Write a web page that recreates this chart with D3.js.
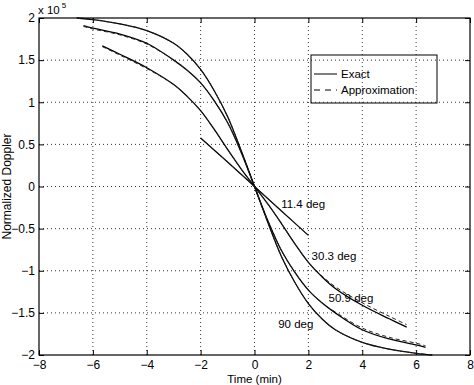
<!DOCTYPE html>
<html><head><meta charset="utf-8">
<script src="https://cdn.jsdelivr.net/npm/d3@7"></script>
<style>body{margin:0;background:#fff}svg{display:block}text{font-family:"Liberation Sans",Arial,sans-serif;fill:#000}</style>
</head><body><svg id="c" width="474" height="385"></svg>
<script>
// ---- data ----
const xTicks = [-8,-6,-4,-2,0,2,4,6,8];
const yTicks = [-2,-1.5,-1,-0.5,0,0.5,1,1.5,2];
const yTickLabels = ["\u22122","\u22121.5","\u22121","\u22120.5","0","0.5","1","1.5","2"];
const xTickLabels = ["\u22128","\u22126","\u22124","\u22122","0","2","4","6","8"];

const t90    = [-6.6,-6,-5,-4,-3,-2.5,-2,-1.5,-1,-0.5,0,0.5,1,1.5,2,2.5,3,4,5,6,6.6];
const exact90  = [2.0,1.98,1.93,1.85,1.70,1.57,1.39,1.14,0.83,0.43,0,-0.43,-0.83,-1.14,-1.39,-1.57,-1.70,-1.85,-1.93,-1.98,-2.0];
const approx90 = [2.0,1.98,1.93,1.85,1.70,1.57,1.39,1.14,0.83,0.43,0,-0.43,-0.83,-1.14,-1.39,-1.57,-1.70,-1.85,-1.93,-1.98,-2.0];

const t509   = [-6.35,-6,-5,-4,-3,-2.5,-2,-1.5,-1,-0.5,0,0.5,1,1.5,2,2.5,3,4,5,6,6.35];
const exact509  = [1.91,1.88,1.81,1.70,1.50,1.38,1.23,1.02,0.76,0.41,0,-0.41,-0.76,-1.02,-1.23,-1.38,-1.50,-1.70,-1.81,-1.88,-1.91];
const approx509 = [1.90,1.87,1.80,1.69,1.50,1.38,1.23,1.02,0.76,0.41,0,-0.41,-0.76,-1.02,-1.23,-1.38,-1.49,-1.68,-1.79,-1.86,-1.89];

const t303   = [-5.65,-5,-4,-3,-2.5,-2,-1.5,-1,-0.5,0,0.5,1,1.5,2,2.5,3,4,5,5.65];
const exact303  = [1.67,1.57,1.41,1.21,1.07,0.90,0.68,0.44,0.21,0,-0.21,-0.44,-0.68,-0.90,-1.07,-1.21,-1.41,-1.57,-1.67];
const approx303 = [1.66,1.56,1.40,1.21,1.07,0.90,0.68,0.44,0.21,0,-0.21,-0.44,-0.68,-0.90,-1.06,-1.19,-1.38,-1.54,-1.64];

const t114   = [-2,-1,0,1,2];
const exact114  = [0.575,0.29,0,-0.29,-0.58];
const approx114 = [0.575,0.29,0,-0.29,-0.58];

const curveLabels = ["11.4 deg","30.3 deg","50.9 deg","90 deg"];
const labelT = [0.99,2.12,2.75,0.88];
const labelV = [-0.25,-0.87,-1.37,-1.68];

const legendLabels = ["Exact","Approximation"];

// ---- drawing ----
const svg = d3.select("#c");
const L=39, R=470, T=18, B=355;
const x = d3.scaleLinear().domain([-8,8]).range([L,R]);
const y = d3.scaleLinear().domain([-2,2]).range([B,T]);

// grid
const g = svg.append("g");
g.selectAll(".gx").data(xTicks.slice(1,-1)).enter().append("line")
  .attr("x1",d=>x(d)).attr("x2",d=>x(d)).attr("y1",T).attr("y2",B)
  .attr("stroke","#000").attr("stroke-width",0.8).attr("stroke-dasharray","1,3");
g.selectAll(".gy").data(yTicks.slice(1,-1)).enter().append("line")
  .attr("y1",d=>y(d)).attr("y2",d=>y(d)).attr("x1",L).attr("x2",R)
  .attr("stroke","#000").attr("stroke-width",0.8).attr("stroke-dasharray","1,3");

// axes
const fmtX = (d,i)=>xTickLabels[i], fmtY=(d,i)=>yTickLabels[i];
const ax = d3.axisBottom(x).tickValues(xTicks).tickSize(-5).tickPadding(5).tickFormat(fmtX);
const ay = d3.axisLeft(y).tickValues(yTicks).tickSize(-5).tickPadding(4).tickFormat(fmtY);
const axT = d3.axisTop(x).tickValues(xTicks).tickSize(-5).tickFormat("");
const ayR = d3.axisRight(y).tickValues(yTicks).tickSize(-5).tickFormat("");
function style(sel){sel.select(".domain").remove();sel.selectAll("line").attr("stroke","#000");sel.selectAll("text").style("font-size","12px").attr("fill","#000");}
svg.append("g").attr("transform",`translate(0,${B})`).call(ax).call(style);
svg.append("g").attr("transform",`translate(${L},0)`).call(ay).call(style);
svg.append("g").attr("transform",`translate(0,${T})`).call(axT).call(style);
svg.append("g").attr("transform",`translate(${R},0)`).call(ayR).call(style);
svg.append("rect").attr("x",L).attr("y",T).attr("width",R-L).attr("height",B-T)
  .attr("fill","none").attr("stroke","#000").attr("stroke-width",1.2);

// curves
const line = d3.line().x(d=>x(d[0])).y(d=>y(d[1])).curve(d3.curveCatmullRom);
const series = [[t90,exact90,approx90],[t509,exact509,approx509],[t303,exact303,approx303],[t114,exact114,approx114]];
series.forEach(([t,e,a])=>{
  svg.append("path").datum(t.map((v,i)=>[v,e[i]])).attr("d",line)
    .attr("fill","none").attr("stroke","#000").attr("stroke-width",1.3);
  svg.append("path").datum(t.map((v,i)=>[v,a[i]])).attr("d",line)
    .attr("fill","none").attr("stroke","#222").attr("stroke-width",1).attr("stroke-dasharray","4,3");
});

// curve labels
svg.selectAll(".cl").data(curveLabels).enter().append("text")
  .attr("x",(d,i)=>x(labelT[i])).attr("y",(d,i)=>y(labelV[i]))
  .style("font-size","11.5px").text(d=>d);

// legend
const lg = svg.append("g");
lg.append("rect").attr("x",311).attr("y",55).attr("width",126).attr("height",48)
  .attr("fill","none").attr("stroke","#000").attr("stroke-width",1);
legendLabels.forEach((s,i)=>{
  const yy = 74 + i*16;
  lg.append("line").attr("x1",314).attr("x2",337).attr("y1",yy).attr("y2",yy)
    .attr("stroke","#000").attr("stroke-width",1).attr("stroke-dasharray",i? "6,5":null);
  lg.append("text").attr("x",341).attr("y",yy+4).style("font-size","11.5px").text(s);
});

// axis labels
svg.append("text").attr("x",x(0)).attr("y",383).attr("text-anchor","middle").style("font-size","11.5px").text("Time (min)");
svg.append("text").attr("transform",`translate(11,${(T+B)/2}) rotate(-90)`).attr("text-anchor","middle").style("font-size","12px").text("Normalized Doppler");
const ex = svg.append("text").attr("x",38).attr("y",14).style("font-size","11.5px");
ex.append("tspan").text("x 10");
ex.append("tspan").attr("dx",2).attr("dy",-6).style("font-size","8px").text("5");
</script></body></html>
